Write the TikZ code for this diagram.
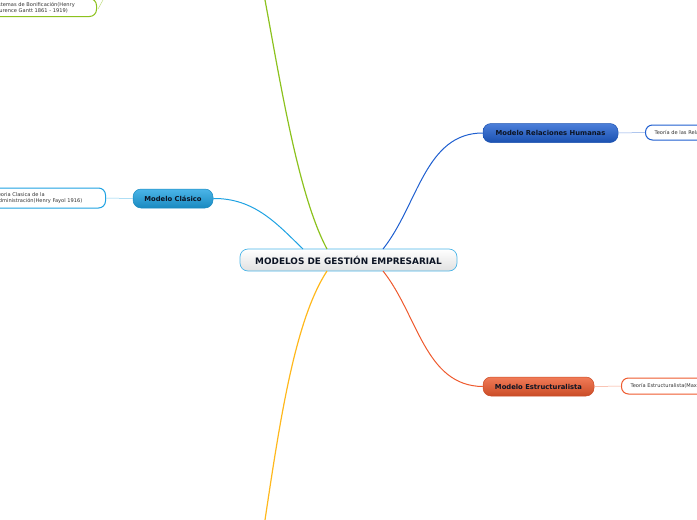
\documentclass[tikz,border=0pt]{standalone}
\usepackage{fontspec}
\setmainfont{DejaVu Sans}
\usepackage{tikz}

\definecolor{cBlue}{HTML}{1EA2E2}
\definecolor{cNavy}{HTML}{1F5FD0}
\definecolor{cOrange}{HTML}{EE5A2E}
\definecolor{cGreen}{HTML}{8CC21E}
\definecolor{cYellow}{HTML}{FFB81C}
\definecolor{cText}{HTML}{0C1424}

\tikzset{
    centre/.style={draw=cBlue!80, line width=0.7pt, rounded corners=8pt, top color=white, bottom color=black!12,
        minimum width=217pt, minimum height=22pt, inner sep=0pt, font=\fontsize{8.9}{10}\selectfont\bfseries, text=cText},
    branch/.style={draw=#1!85!black, line width=0.5pt, rounded corners=8pt, top color=#1!80!white, bottom color=#1!85!black,
        minimum height=19pt, inner sep=0pt, font=\fontsize{6.8}{8}\selectfont\bfseries, text=cText},
    leaf/.style={draw=#1, line width=1pt, rounded corners=7pt, fill=white, inner xsep=9pt, inner ysep=2.5pt,
        font=\fontsize{5.1}{6}\selectfont, text=black!80, align=left},
    link/.style={draw=#1!55, line width=0.5pt},
}

\begin{document}
\begin{tikzpicture}[x=1pt, y=-1pt]
        \useasboundingbox (0,0) rectangle (697,520);
        \clip (0,0) rectangle (697,520);

        \node[centre] (mg) at (348.5,260) {MODELOS DE GESTIÓN EMPRESARIAL};

        \node[branch=cBlue, minimum width=80pt] (mc) at (173,198.5) {Modelo Clásico};
        \node[branch=cNavy, minimum width=135pt] (mrh) at (550.5,133) {Modelo Relaciones Humanas};
        \node[branch=cOrange, minimum width=111pt] (me) at (538.5,386.5) {Modelo Estructuralista};

        \node[leaf=cBlue, anchor=east, minimum height=20pt, text width=101pt] (tc) at (106,198)
            {Teoria Clasica de la\\Administración(Henry Fayol 1916)};
        \node[leaf=cNavy, anchor=west, minimum height=15pt, text width=112pt] (trh) at (645,132.5)
            {Teoría de las Relaciones Humanas};
        \node[leaf=cOrange, anchor=west, minimum height=16pt, text width=122pt] (te) at (621,386)
            {Teoría Estructuralista(Max Weber)};
        \node[leaf=cGreen, anchor=south east, minimum height=18pt, text width=94pt] (ts) at (97,17)
            {Sistemas de Bonificación(Henry\\Laurence Gantt 1861 - 1919)};

        \coordinate (up) at (265,0);
        \coordinate (down) at (265,520);
        \coordinate (tsUp) at (103,0);

        % ramas principales
        \draw[cBlue, line width=1pt] (303,249) .. controls (278,225) and (255,198) .. (mc.east);
        \draw[cGreen, line width=1.2pt] (327,249) .. controls (298,195) and (280,80) .. (up);
        \draw[cNavy, line width=1pt] (383,249) .. controls (418,205) and (425,133) .. (mrh.west);
        \draw[cOrange, line width=1pt] (383,271) .. controls (418,315) and (425,386) .. (me.west);
        \draw[cYellow, line width=1.2pt] (327,271) .. controls (295,320) and (280,420) .. (down);

        % hojas
        \draw[link=cBlue] (tc.east) -- (mc.west);
        \draw[link=cNavy] (mrh.east) -- (trh.west);
        \draw[link=cOrange] (me.east) -- (te.west);
        \draw[link=cGreen] (98,9) .. controls (101,5) .. (tsUp);
    \end{tikzpicture}
\end{document}
